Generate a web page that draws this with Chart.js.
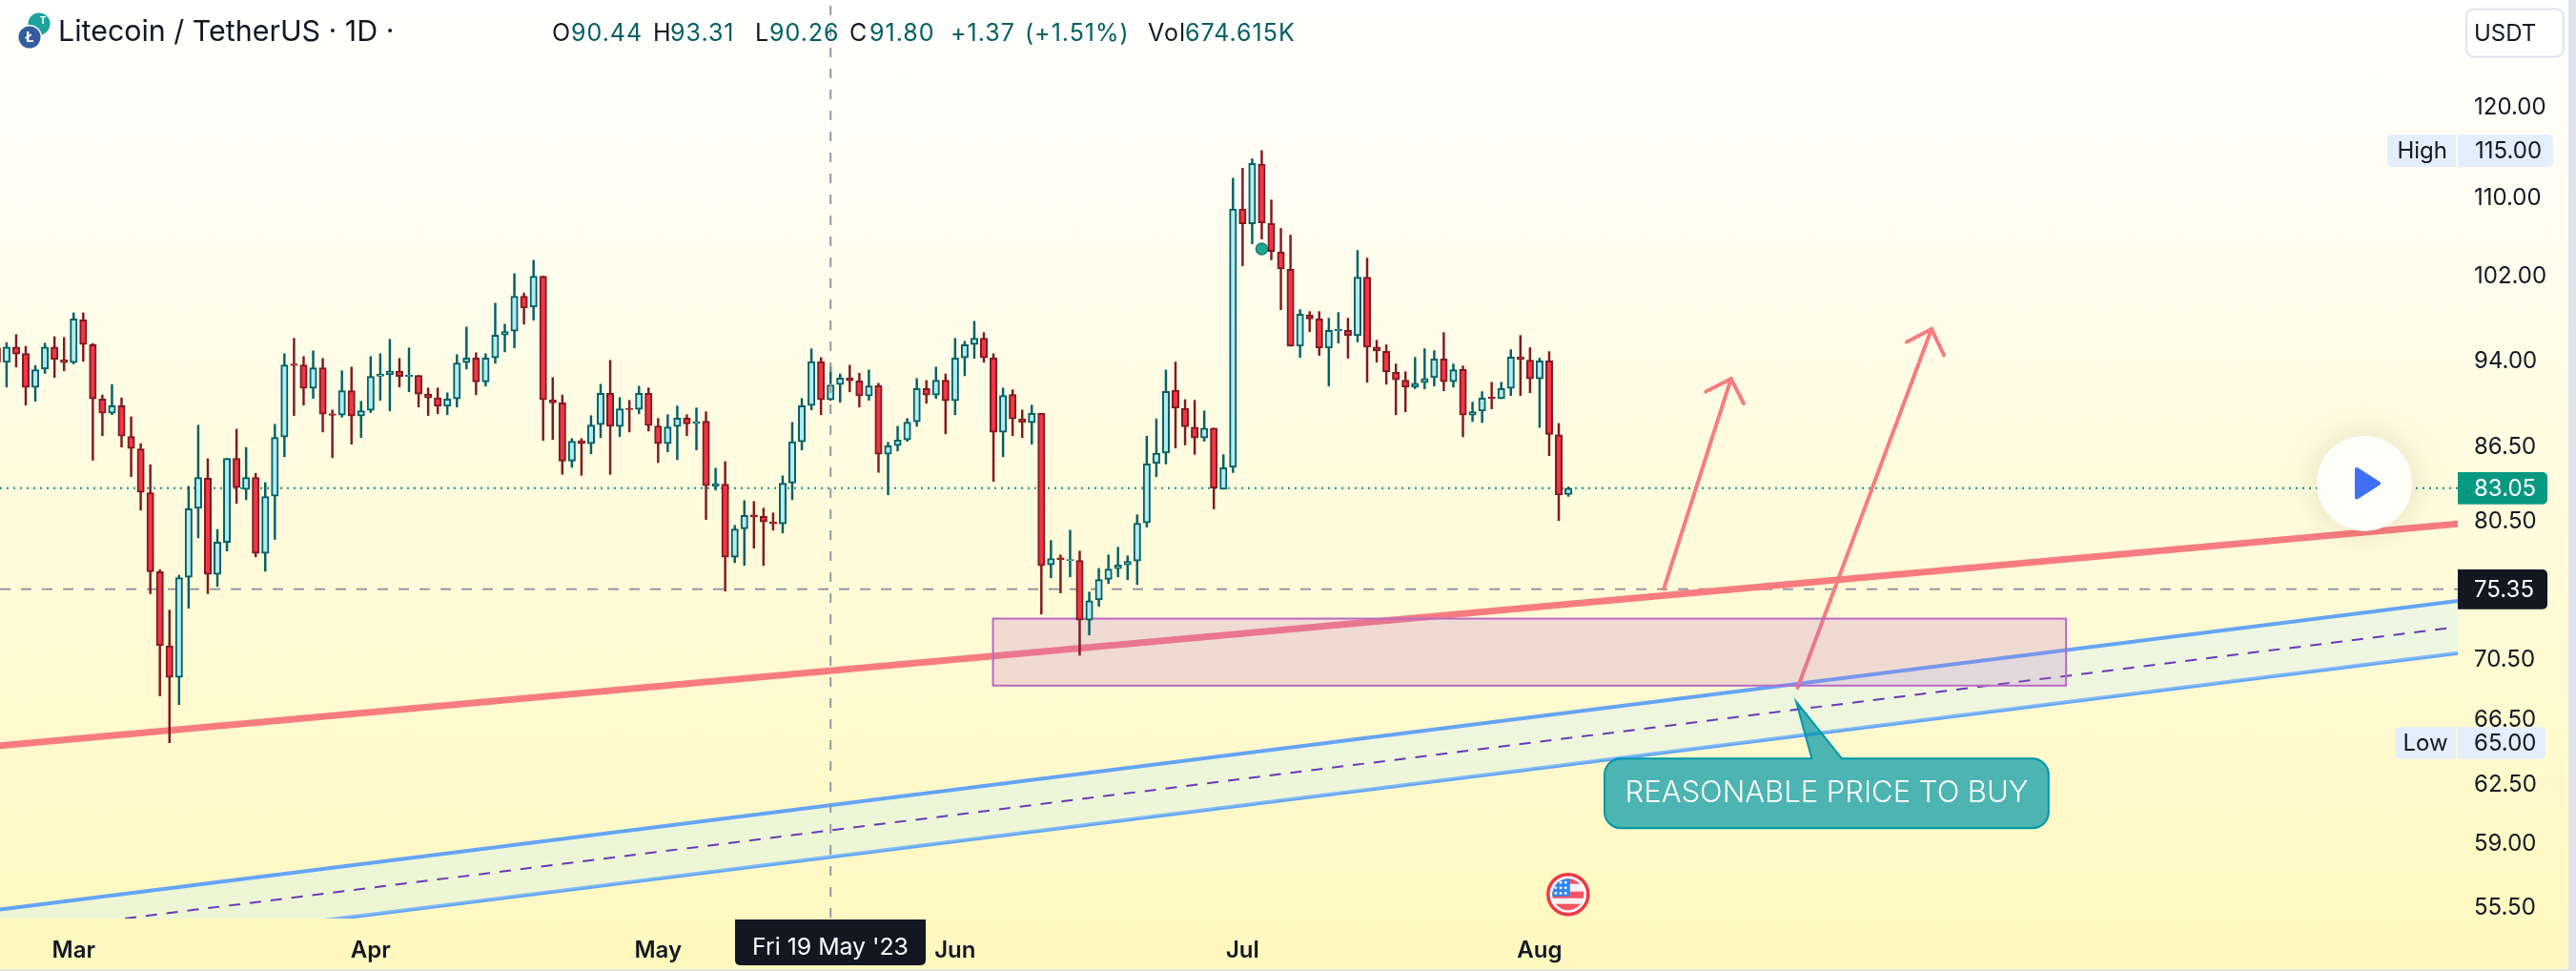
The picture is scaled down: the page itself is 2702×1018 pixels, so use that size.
<!DOCTYPE html>
<html><head><meta charset="utf-8">
<style>html,body{margin:0;padding:0;background:#fff}canvas{display:block}</style>
<script src="https://cdn.jsdelivr.net/npm/chart.js@4/dist/chart.umd.js"></script>
</head><body><canvas id="c" width="2702" height="1018"></canvas>
<script>
// Day index: 0 = 1 Mar 2023
const firstDay = -8;
const opens = [95.08,93.77,95.17,94.58,91.53,93.17,95.17,94.0,93.74,97.69,95.37,90.5,89.28,89.92,87.31,86.27,82.7,76.63,71.35,69.2,76.23,81.45,83.85,76.44,78.82,85.48,82.95,83.92,78.0,82.42,87.25,93.63,93.54,91.45,93.28,89.23,89.12,91.25,89.04,89.53,92.53,92.68,92.97,92.5,92.59,90.94,90.61,89.87,90.53,93.74,94.15,92.02,94.17,96.28,96.63,99.94,98.89,101.89,90.44,90.17,85.26,86.94,86.7,88.3,91.0,88.14,89.7,89.62,91.0,88.19,86.7,88.14,88.86,88.39,88.6,83.2,83.38,77.71,79.87,80.95,80.83,80.4,80.25,83.46,86.86,89.95,93.83,90.44,91.78,92.37,92.11,90.77,91.7,85.82,86.54,87.02,88.55,91.42,90.86,92.17,90.36,94.17,95.4,95.98,94.15,87.65,90.91,88.77,88.47,89.26,77.14,77.66,77.45,77.47,73.14,74.57,76.06,76.85,77.14,77.42,80.33,85.05,85.92,91.29,89.68,88.09,87.17,88.01,82.97,84.74,108.7,107.16,113.51,107.2,104.29,102.56,95.24,98.14,97.78,95.07,96.67,96.7,96.2,101.79,95.16,94.77,92.87,92.17,91.54,91.95,92.4,94.08,92.03,93.12,89.12,89.46,90.67,90.54,91.45,94.25,93.96,92.29,93.9,87.45,82.55];
const highs = [95.87,95.57,96.31,95.23,93.48,95.52,96.11,96.05,98.35,98.35,95.49,90.86,91.78,90.61,88.97,86.7,84.96,76.78,73.84,76.37,83.2,88.25,85.45,79.81,85.48,87.92,86.38,84.25,83.51,88.33,94.55,95.96,94.29,94.81,94.12,89.56,93.0,93.34,90.31,94.29,94.55,95.87,94.12,95.08,92.59,91.48,91.48,91.05,94.46,97.01,94.64,94.55,99.27,97.28,102.14,100.25,103.46,101.89,92.4,90.86,87.12,87.12,89.07,91.81,93.95,90.64,90.39,91.64,91.48,88.83,89.15,89.9,89.15,89.73,89.4,84.67,85.21,80.13,82.07,82.0,81.47,81.1,84.05,88.5,90.56,95.0,94.2,93.34,92.73,93.51,92.79,93.08,91.89,86.81,88.16,88.83,92.32,92.14,93.34,92.73,95.96,95.69,97.55,96.49,94.55,91.48,91.31,89.56,89.98,89.26,78.97,77.88,79.76,78.17,75.14,76.87,77.88,78.46,77.81,80.95,87.33,88.79,93.08,93.79,90.46,90.4,89.48,88.01,85.78,111.99,113.07,114.1,115.0,109.66,106.69,106.0,98.65,98.47,98.47,97.84,98.38,97.84,104.45,103.68,95.79,95.36,93.62,92.92,94.22,95.01,94.83,96.49,93.62,93.44,90.23,91.15,91.98,91.98,94.92,96.23,95.1,94.14,94.74,88.4,83.15];
const lows = [92.6,91.56,93.34,89.98,90.31,92.77,92.4,93.0,93.63,93.86,85.32,87.37,89.15,86.41,83.98,81.32,75.02,67.98,64.98,67.41,73.97,79.17,75.02,75.55,78.17,81.85,82.13,77.73,76.66,79.05,85.61,89.07,89.98,90.56,87.68,85.53,88.94,86.65,87.2,89.34,90.39,89.48,91.56,91.14,89.81,89.07,89.23,89.15,89.81,93.17,90.88,91.64,93.68,94.72,95.08,97.28,97.66,86.97,87.04,84.17,84.74,84.09,85.85,87.2,84.17,87.29,87.68,89.23,87.76,85.13,86.01,85.37,87.37,86.17,80.58,82.9,75.21,77.3,77.09,78.38,77.09,79.76,79.54,82.13,86.17,89.56,89.15,90.39,90.22,91.14,89.81,90.39,84.33,82.52,86.09,86.89,88.16,90.14,90.56,87.52,89.15,92.56,94.12,93.77,83.59,85.61,87.37,87.2,86.65,73.56,76.18,75.07,76.25,70.7,72.1,74.11,75.76,76.25,76.04,75.69,80.0,83.98,85.02,86.33,86.59,85.81,86.9,81.41,82.97,84.32,102.92,105.12,105.6,103.5,98.65,95.24,94.22,96.58,94.4,91.65,95.53,94.14,95.62,91.98,93.79,91.81,89.15,89.4,91.42,91.4,91.65,91.23,91.56,87.27,88.56,88.48,89.65,90.54,90.81,90.81,91.06,88.07,85.7,80.5,82.4];
const closes = [93.77,95.17,94.52,91.53,93.11,95.17,94.03,93.74,97.78,95.4,90.53,89.28,89.92,87.34,86.3,82.72,76.63,71.35,69.2,76.2,81.42,83.92,76.44,78.85,85.48,83.1,83.92,78.0,82.39,87.22,93.54,93.48,91.45,93.28,89.2,89.1,91.25,89.04,89.5,92.5,92.7,92.97,92.5,92.62,90.94,90.61,89.87,90.5,93.71,94.15,92.02,94.15,96.25,96.6,99.94,98.8,101.89,90.44,90.17,85.26,86.91,86.7,88.27,91.0,88.16,89.67,89.59,91.0,88.22,86.7,88.11,88.86,88.36,88.55,83.26,83.41,77.71,79.85,80.9,80.8,80.4,80.25,83.46,86.86,89.92,93.83,90.44,91.75,92.35,92.11,90.77,91.67,85.82,86.52,87.0,88.52,91.42,90.86,92.17,90.36,94.15,95.37,95.98,94.17,87.65,90.83,88.8,88.5,89.26,77.07,77.61,77.52,77.54,73.14,74.52,76.06,76.82,77.12,77.4,80.3,85.02,85.9,91.17,89.71,88.12,87.17,88.01,83.07,84.71,108.7,107.16,113.6,107.26,104.33,102.6,95.24,98.23,97.78,95.07,96.7,96.79,96.2,101.79,95.16,94.81,92.9,92.2,91.54,91.89,92.32,94.08,92.03,93.1,89.12,89.42,90.59,90.57,91.42,94.25,94.03,92.29,93.9,87.48,82.52,83.05];

const tickPrices = [120,110,102,94,86.5,80.5,70.5,66.5,62.5,59,55.5];
const tickLabels = ['120.00','110.00','102.00','94.00','86.50','80.50','70.50','66.50','62.50','59.00','55.50'];
const monthDays = [0,31,61,92,122,153];
const monthLabels = ['Mar','Apr','May','Jun','Jul','Aug'];

const viewDays = [-7.687,248.83];
const viewPrices = [54.85,132.97];
const resistanceEnds = [64.8,80.25];
const channelTopEnds = [55.33,74.5];
const channelBottomEnds = [52.65,70.85];
const channelMidDays = [-7.687,248.2];
const channelMidEnds = [54.03,72.6];
const lastPrice = 83.05, crossPrice = 75.35, highPrice = 115, lowPrice = 65;
const crossDay = 79;
const arrow1Days = [165.95,172.98], arrow1Prices = [75.35,92.29];
const arrow1HeadDays = [170.35,172.98,174.3], arrow1HeadPrices = [91.16,92.29,90.12];
const arrow2Days = [179.93,193.91], arrow2Prices = [68.52,96.82];
const arrow2HeadDays = [191.32,193.91,195.2], arrow2HeadPrices = [95.63,96.82,94.41];
const zoneDays = [95.95,207.95], zonePrices = [68.66,73.24];
const dotDay = 124, dotPrice = 104.6;
const calloutTipDay = 179.78, calloutTipPrice = 67.61;

const FONT = 'Inter, sans-serif';
const UP_FILL='#B2EBF2', UP_LINE='#006064', DN_FILL='#F23645', DN_LINE='#801922', PINK='#F77C80', BLUE='#64A5F5';
const days = opens.map((_,k)=>firstDay+k);
const pts = (xs,ys)=>xs.map((x,k)=>({x,y:ys[k]}));
const isUp = c => closes[c.dataIndex]>=opens[c.dataIndex];
const lineDs = (data,color,width,order,extra={}) => Object.assign({type:'line',data,borderColor:color,borderWidth:width,pointRadius:0,tension:0,order,fill:false,borderCapStyle:'round'},extra);

const datasets = [
 {type:'bar',label:'Bodies',data:days.map((x,k)=>({x,y:[Math.min(opens[k],closes[k]),Math.max(opens[k],closes[k])]})),
  barThickness:7.4,grouped:false,borderWidth:2,borderSkipped:false,order:2,
  backgroundColor:c=>isUp(c)?UP_FILL:DN_FILL,borderColor:c=>isUp(c)?UP_LINE:DN_LINE},
 {type:'bar',label:'Wicks',data:days.map((x,k)=>({x,y:[lows[k],highs[k]]})),
  barThickness:1.8,grouped:false,borderWidth:0,order:3,
  backgroundColor:c=>isUp(c)?UP_LINE:DN_LINE},
 lineDs(pts(viewDays,channelTopEnds),BLUE,4,9,{fill:'+1',backgroundColor:'rgba(200,240,255,0.3)'}),
 lineDs(pts(viewDays,channelBottomEnds),BLUE,4,9),
 lineDs(pts(channelMidDays,channelMidEnds),'#673AB7',2,8,{borderDash:[12,10],borderCapStyle:'butt'}),
 lineDs(pts(viewDays,[crossPrice,crossPrice]),'#9598A1',2,7,{borderDash:[11,11],borderCapStyle:'butt'}),
 lineDs(pts(viewDays,[lastPrice,lastPrice]),'#089981',2,6,{borderDash:[2,5],borderCapStyle:'butt'}),
 lineDs(pts(viewDays,resistanceEnds),PINK,7,5),
 lineDs(pts(arrow1Days,arrow1Prices),PINK,4,4),
 lineDs(pts(arrow1HeadDays,arrow1HeadPrices),PINK,4,4),
 lineDs(pts(arrow2Days,arrow2Prices),PINK,4,4),
 lineDs(pts(arrow2HeadDays,arrow2HeadPrices),PINK,4,4),
 {type:'line',data:pts([dotDay],[dotPrice]),showLine:false,pointRadius:6,pointBorderWidth:1.5,pointBackgroundColor:'#1FA890',pointBorderColor:'#0F7F74',order:1}
];
const WICK_INDEX = 1;

function txt(ctx,s,x,y,font,color,align='left'){ctx.font=font;ctx.fillStyle=color;ctx.textAlign=align;ctx.textBaseline='middle';ctx.fillText(s,x,y);}
const zeroPad = s => {s.paddingLeft=s.paddingRight=s.paddingTop=s.paddingBottom=0;};

const chrome = {
 id:'chrome',
 beforeDraw(chart){
  const {ctx,width,height}=chart;
  const g=ctx.createLinearGradient(0,0,0,1016);
  g.addColorStop(0,'#FFFFFF');g.addColorStop(1,'#FFF8BE');
  ctx.save();ctx.fillStyle=g;ctx.fillRect(0,0,width,height);
  ctx.fillStyle='#DFE2EA';ctx.fillRect(2694,0,8,height);ctx.fillRect(0,1016,width,2);
  ctx.restore();
 },
 beforeDatasetDraw(chart,args){
  if(args.index!==WICK_INDEX) return;
  const {ctx,scales:{x,y}}=chart;
  const l=x.getPixelForValue(zoneDays[0]),r=x.getPixelForValue(zoneDays[1]);
  const t=y.getPixelForValue(zonePrices[1]),b=y.getPixelForValue(zonePrices[0]);
  ctx.save();
  ctx.fillStyle='rgba(186,104,200,0.22)';ctx.fillRect(l,t,r-l,b-t);
  ctx.strokeStyle='#BA68C8';ctx.lineWidth=2;ctx.strokeRect(l,t,r-l,b-t);
  ctx.restore();
 },
 afterDraw(chart){
  const {ctx,scales:{x,y}}=chart;
  ctx.save();
  // crosshair
  const cx=x.getPixelForValue(crossDay);
  ctx.strokeStyle='#9598A1';ctx.lineWidth=2;ctx.setLineDash([10,12]);
  ctx.beginPath();ctx.moveTo(cx,6);ctx.lineTo(cx,964);ctx.stroke();ctx.setLineDash([]);
  // date label
  ctx.fillStyle='#131722';ctx.beginPath();ctx.roundRect(771,964,200,48,[0,0,5,5]);ctx.fill();
  txt(ctx,"Fri 19 May '23",871,994,'400 24.8px '+FONT,'#FFFFFF','center');
  // callout
  const tipX=x.getPixelForValue(calloutTipDay),tipY=y.getPixelForValue(calloutTipPrice);
  ctx.beginPath();
  ctx.moveTo(1700,795.3);ctx.lineTo(1900.4,795.3);ctx.lineTo(tipX,tipY);ctx.lineTo(1932,795.3);
  ctx.lineTo(2131,795.3);ctx.arcTo(2148.8,795.3,2148.8,813,17);ctx.lineTo(2148.8,851);ctx.arcTo(2148.8,868.3,2131,868.3,17);
  ctx.lineTo(1700,868.3);ctx.arcTo(1683,868.3,1683,851,17);ctx.lineTo(1683,813);ctx.arcTo(1683,795.3,1700,795.3,17);ctx.closePath();
  ctx.fillStyle='rgba(0,151,167,0.7)';ctx.fill();ctx.strokeStyle='#0097A7';ctx.lineWidth=2;ctx.stroke();
  txt(ctx,'REASONABLE PRICE TO BUY',1916,832,'300 31px '+FONT,'#FFFFFF','center');
  // play button
  ctx.save();ctx.shadowColor='rgba(90,80,20,0.18)';ctx.shadowBlur=40;ctx.fillStyle='rgba(255,255,252,0.96)';
  ctx.beginPath();ctx.arc(2480,506.7,50,0,Math.PI*2);ctx.fill();ctx.restore();
  ctx.fillStyle='#3F70F5';ctx.strokeStyle='#3F70F5';ctx.lineWidth=4;ctx.lineJoin='round';
  ctx.beginPath();ctx.moveTo(2472,492);ctx.lineTo(2495,506.7);ctx.lineTo(2472,521.5);ctx.closePath();ctx.fill();ctx.stroke();
  // price pills
  const PILL='#E3EFFD', TXT='#131722', F='400 24px '+FONT;
  ctx.fillStyle=PILL;ctx.beginPath();ctx.roundRect(2504,141,72,34,[5,0,0,5]);ctx.fill();
  ctx.beginPath();ctx.roundRect(2578,141,100,34,[0,5,5,0]);ctx.fill();
  txt(ctx,'High',2540.7,158.5,F,TXT,'center');txt(ctx,highPrice.toFixed(2),2596,158.5,F,TXT);
  ctx.fillStyle=PILL;ctx.beginPath();ctx.roundRect(2512,762.3,64,33.4,[5,0,0,5]);ctx.fill();
  ctx.beginPath();ctx.roundRect(2578,762.3,92,33.4,[0,5,5,0]);ctx.fill();
  txt(ctx,'Low',2544,780,F,TXT,'center');txt(ctx,lowPrice.toFixed(2),2595,780,F,TXT);
  ctx.fillStyle='#089981';ctx.beginPath();ctx.roundRect(2578,495,94,33.7,[0,5,5,0]);ctx.fill();
  txt(ctx,lastPrice.toFixed(2),2595,513,F,'#FFFFFF');
  ctx.fillStyle='#131722';ctx.beginPath();ctx.roundRect(2578,597,94,41.7,[0,5,5,0]);ctx.fill();
  txt(ctx,crossPrice.toFixed(2),2595,619,F,'#FFFFFF');
  // currency button
  ctx.fillStyle='#FFFFFF';ctx.strokeStyle='#E0E3EB';ctx.lineWidth=2;ctx.beginPath();ctx.roundRect(2587,9.5,102,50,8);ctx.fill();ctx.stroke();
  txt(ctx,'USDT',2595,35.5,F,TXT);
  // logo
  ctx.fillStyle='#1BA39C';ctx.beginPath();ctx.arc(41,25,11.5,0,Math.PI*2);ctx.fill();
  txt(ctx,'T',45,22,'700 10px '+FONT,'#FFFFFF','center');
  ctx.fillStyle='#FFFFFF';ctx.beginPath();ctx.arc(31,39,13,0,Math.PI*2);ctx.fill();
  ctx.fillStyle='#345D9D';ctx.beginPath();ctx.arc(31,39,11.5,0,Math.PI*2);ctx.fill();
  txt(ctx,'Ł',31,39,'700 15px '+FONT,'#FFFFFF','center');
  // header
  txt(ctx,'Litecoin / TetherUS · 1D ·',61,34,'400 30.4px '+FONT,'#131722');
  const V='#006064',L='#131722',H='400 25px '+FONT;
  ctx.letterSpacing='1px';
  [['O',579,L],['90.44',599,V],['H',685,L],['93.31',703,V],['L',792,L],['90.26',807,V],['C',891,L],['91.80',912,V],['+1.37',997,V],['(+1.51%)',1075,V],['Vol',1204,L],['674.615K',1243,V]]
   .forEach(([s,px,c])=>txt(ctx,s,px,35,H,c));
  ctx.letterSpacing='0px';
  // flag
  const fx=1644.8,fy=937.7;
  ctx.fillStyle='#FFFFFF';ctx.beginPath();ctx.arc(fx,fy,21,0,Math.PI*2);ctx.fill();
  ctx.strokeStyle='#F23645';ctx.lineWidth=3.5;ctx.stroke();
  ctx.save();ctx.beginPath();ctx.arc(fx,fy,16.5,0,Math.PI*2);ctx.clip();
  ctx.fillStyle='#F7F2F5';ctx.fillRect(fx-17,fy-17,34,34);
  ctx.fillStyle='#F7525F';ctx.fillRect(fx-17,fy-17,34,6);ctx.fillRect(fx-17,fy-3,34,7);ctx.fillRect(fx-17,fy+10,34,8);
  ctx.fillStyle='#2E86F0';ctx.fillRect(fx-17,fy-17,19,19);
  ctx.fillStyle='#FFFFFF';
  for(let r=0;r<3;r++)for(let c=0;c<3;c++){ctx.beginPath();ctx.arc(fx-13+c*5.2,fy-12.5+r*5.6,1.4,0,Math.PI*2);ctx.fill();}
  ctx.restore();
  ctx.restore();
 }
};

new Chart(document.getElementById('c'),{
 type:'bar',
 data:{datasets},
 plugins:[chrome],
 options:{
  responsive:false,animation:false,devicePixelRatio:1,
  layout:{padding:0,autoPadding:false},
  interaction:{mode:null},
  plugins:{legend:{display:false},tooltip:{enabled:false},title:{display:false}},
  scales:{
   x:{type:'linear',position:'bottom',min:viewDays[0],max:viewDays[1],offset:false,bounds:'data',
      grid:{display:false,offset:false,drawTicks:false},border:{display:false},
      afterBuildTicks:s=>{s.ticks=monthDays.map(v=>({value:v}));},
      afterFit:s=>{s.height=55;zeroPad(s);},
      ticks:{autoSkip:false,maxRotation:0,minRotation:0,padding:19,color:'#131722',font:{family:FONT,size:24,weight:'600'},
             callback:(v,i)=>monthLabels[i]}},
   y:{type:'logarithmic',position:'right',min:viewPrices[0],max:viewPrices[1],bounds:'data',
      grid:{display:false,drawTicks:false},border:{display:false},
      afterBuildTicks:s=>{s.ticks=tickPrices.map(v=>({value:v}));},
      afterFit:s=>{s.width=124;zeroPad(s);},
      ticks:{autoSkip:false,padding:17,labelOffset:1.5,color:'#131722',font:{family:FONT,size:24,weight:'400'},
             callback:(v,i)=>tickLabels[i]}}
  }
 }
});
</script></body></html>
